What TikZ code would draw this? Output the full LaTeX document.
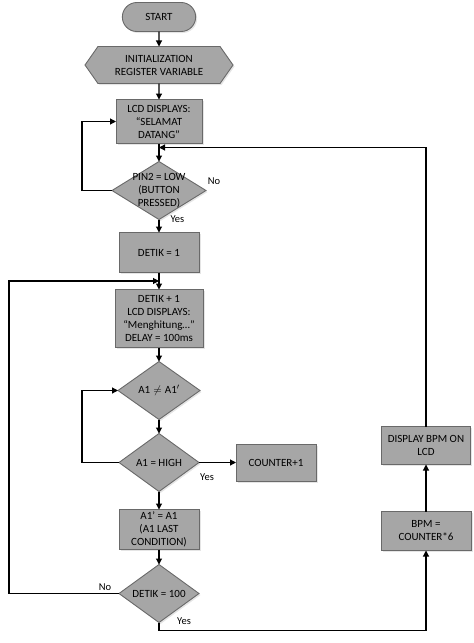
\documentclass[tikz,border=0pt]{standalone}
\usepackage{fontspec}
\setmainfont{Carlito}
\usetikzlibrary{arrows.meta,positioning,shapes.geometric,shapes.misc,shapes.symbols,shadows,calc}
\definecolor{boxfill}{RGB}{166,166,166}
\definecolor{boxline}{RGB}{105,105,105}

\begin{document}
\begin{tikzpicture}[
    x=1pt, y=-1pt,
    every node/.style={font=\fontsize{11}{13}\selectfont},
    base/.style={draw=boxline, fill=boxfill, line width=0.9pt, outer sep=0pt, align=center, drop shadow={shadow xshift=1.5pt, shadow yshift=-1.5pt, fill=black!20}},
    process/.style={base, rectangle, minimum width=80pt, minimum height=40pt, inner sep=2pt},
    decision/.style={base, diamond, inner sep=-14pt, minimum width=80pt, minimum height=58pt},
    terminal/.style={base, rounded rectangle, minimum width=80pt, minimum height=29pt},
    prep/.style={base, signal, signal to=west and east, signal pointer angle=110, minimum width=148pt, minimum height=37pt},
    flow/.style={-{Triangle[length=6pt,width=6pt]}, line width=1.1pt},
    tag/.style={font=\fontsize{10.5}{12}\selectfont}
]
\useasboundingbox (0,0) rectangle (474,643);

\node[terminal] (start) at (159,17) {START};
\node[prep, below=15pt of start] (init) {INITIALIZATION\\REGISTER VARIABLE};
\node[process, below=16pt of init, minimum width=86pt, minimum height=44pt] (lcd) {LCD DISPLAYS:\\“SELAMAT\\DATANG”};
\node[decision, below=18pt of lcd, minimum width=94pt] (pin) {PIN2 = LOW\\(BUTTON\\PRESSED)};
\node[process, below=13pt of pin] (detik1) {DETIK = 1};
\node[process, below=17pt of detik1, minimum width=88pt, minimum height=58pt] (count) {DETIK + 1\\LCD DISPLAYS:\\“Menghitung…”\\DELAY = 100ms};
\node[decision, below=14pt of count, minimum width=82pt] (diff) {$\mathrm{A1} \neq \mathrm{A1}'$};
\node[decision, below=14pt of diff] (high) {A1 = HIGH};
\node[process, right=37pt of high, minimum height=37pt] (counter) {COUNTER+1};
\node[process, below=18pt of high] (last) {A1' = A1\\(A1 LAST\\CONDITION)};
\node[decision, below=15pt of last] (done) {DETIK = 100};
\node[process, minimum width=90pt, minimum height=39pt] (bpm) at (426,531) {BPM =\\COUNTER*6};
\node[process, above=47pt of bpm, minimum width=89pt, minimum height=38pt] (show) {DISPLAY BPM ON\\LCD};

% branch labels
\node[tag] (no1) at ($(pin.east)+(8,-9)$) {No};
\node[tag, anchor=west] (yes1) at ([xshift=8pt]pin.south) {Yes};
\node[tag] (yes2) at ($(high.east)+(8,15)$) {Yes};
\node[tag] (no2) at ($(done.west)+(-14,-6)$) {No};
\node[tag] (yes3) at ($(done.south)+(25,-1)$) {Yes};

\coordinate (join1) at ($(detik1.south)!0.5!(count.north)$);
\coordinate (join2) at ($(lcd.south)+(0,4)$);

\draw[flow] (start) -- (init);
\draw[flow] (init) -- (lcd);
\draw[flow] (lcd) -- (pin);
\draw[flow] (pin.west) -- ++(-30,0) |- (lcd.west);
\draw[flow] (pin) -- (detik1);
\draw[flow] (detik1) -- (count);
\draw[flow] (count) -- (diff);
\draw[flow] (diff) -- (high);
\draw[flow] (high.west) -- ++(-37,0) |- (diff.west);
\draw[flow] (high) -- (counter);
\draw[flow] (high) -- (last);
\draw[flow] (last) -- (done);
\draw[flow] (done.west) -- ++(-110,0) |- (join1);
\draw[flow] (done.south) -- ++(0,8) -| (bpm.south);
\draw[flow] (bpm) -- (show);
\draw[flow] (show.north) |- (join2);
\end{tikzpicture}
\end{document}
